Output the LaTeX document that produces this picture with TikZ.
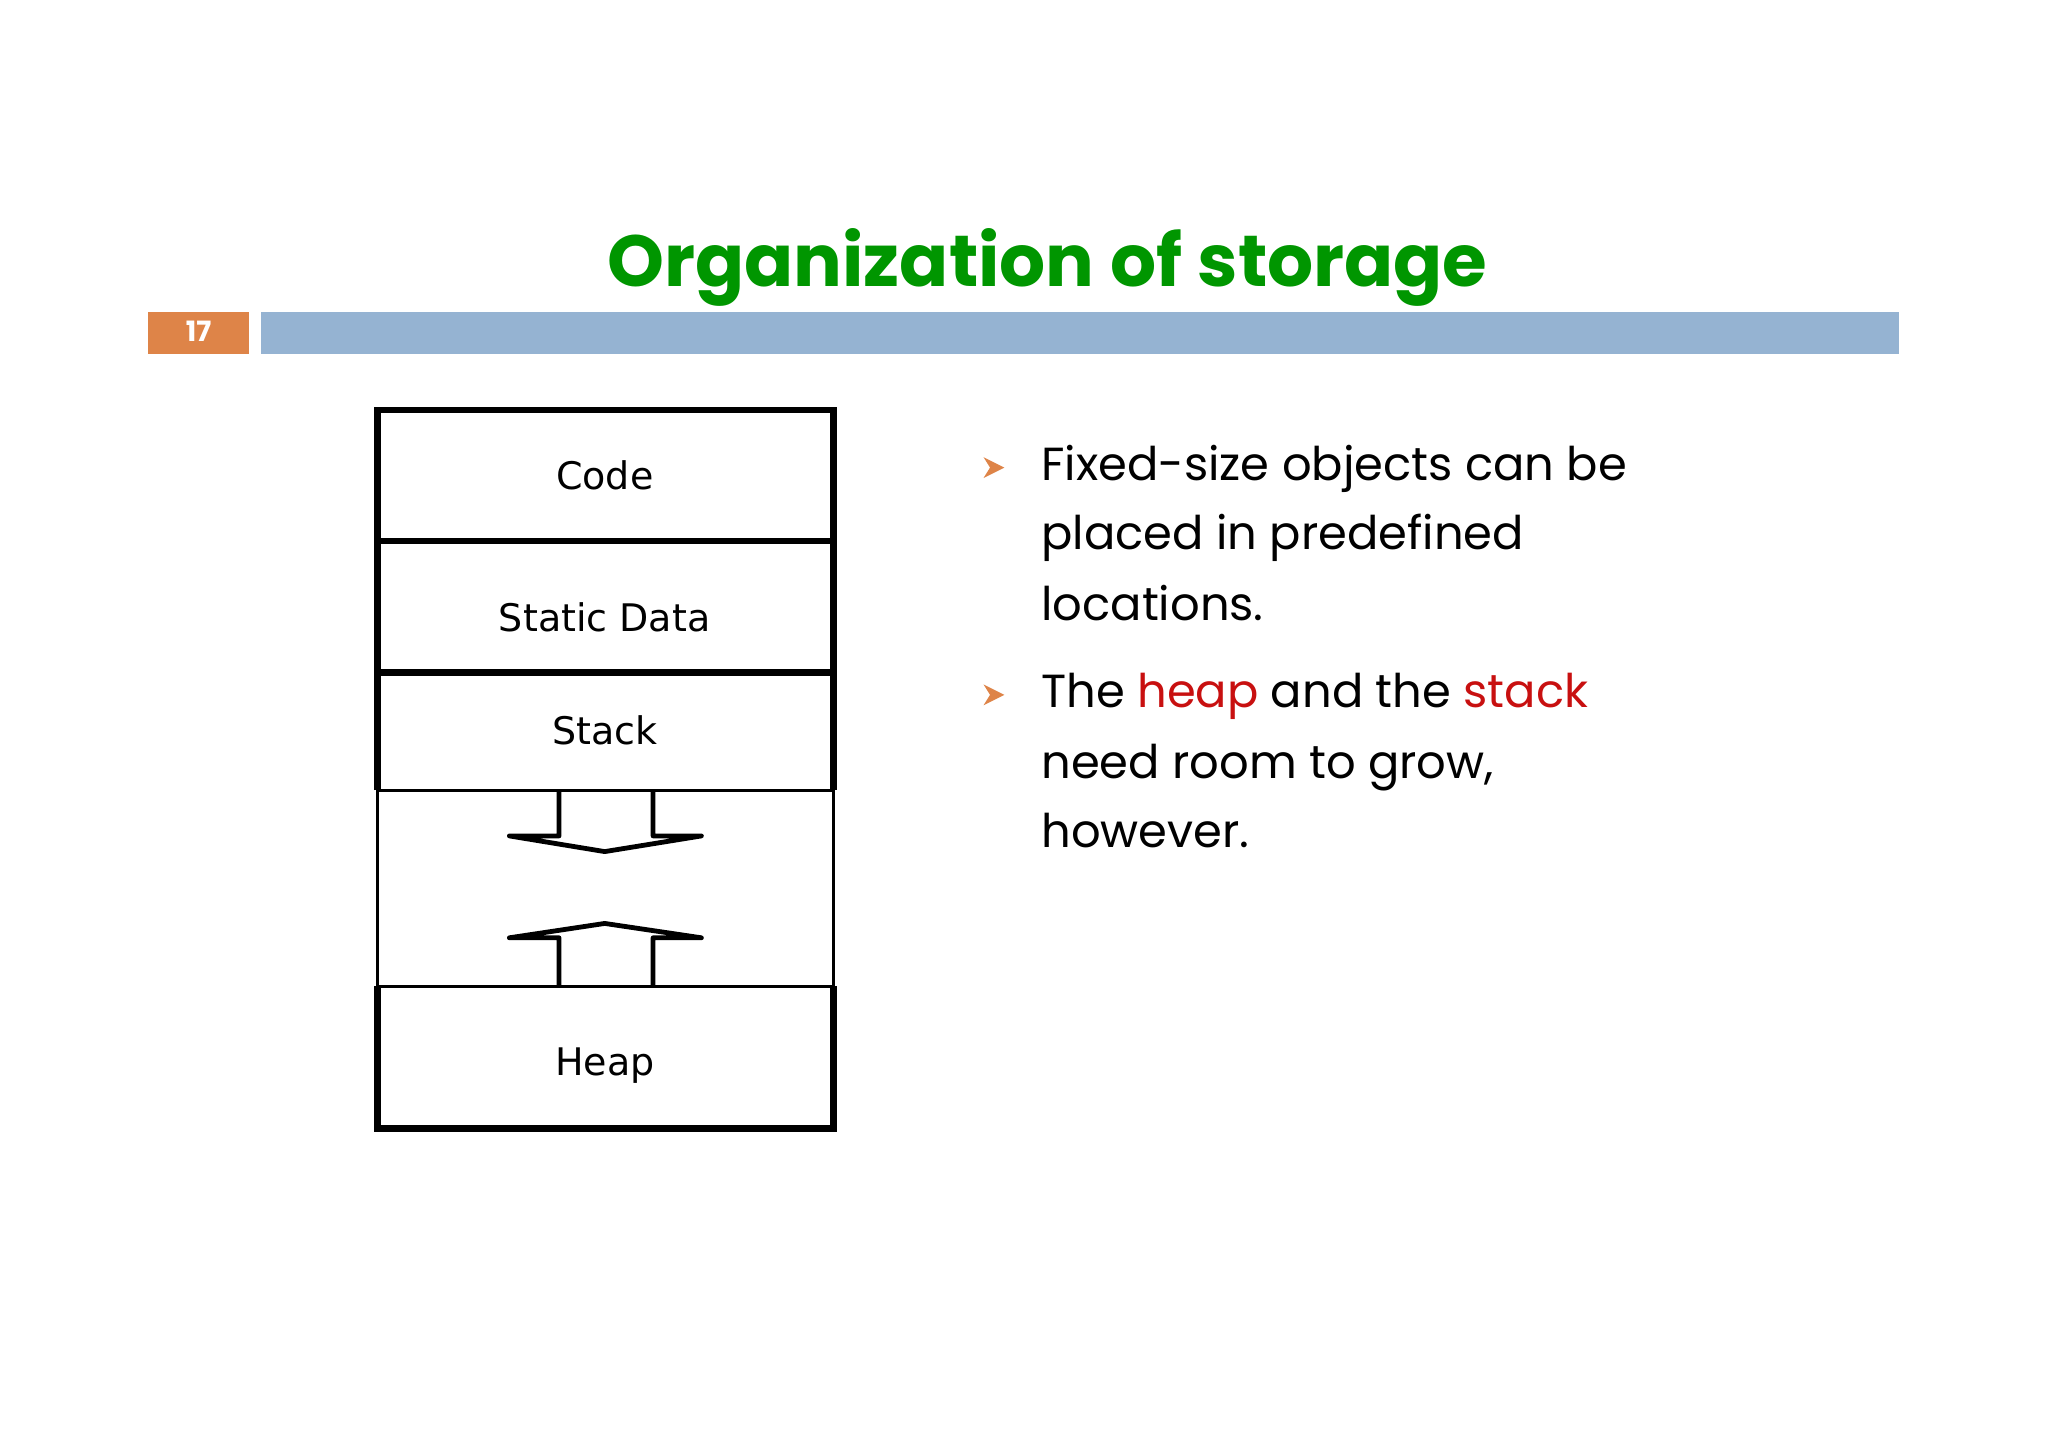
\documentclass[tikz,border=0pt]{standalone}
\usepackage{fontspec}
\setmainfont{Poppins}
\newfontfamily\boxfont{DejaVu Sans}
\definecolor{tgreen}{RGB}{0,150,0}
\definecolor{torange}{RGB}{222,132,72}
\definecolor{tblue}{RGB}{149,179,210}
\definecolor{tred}{RGB}{200,16,16}
\begin{document}
\begin{tikzpicture}[x=0.653pt,y=-0.653pt,
  thick box/.style={draw=black,line width=3.2pt},
  lbl/.style={font=\boxfont\fontsize{19}{22}\selectfont},
  body/.style={anchor=base west,inner sep=0pt,font=\fontsize{23.2}{28}\selectfont},
  bul/.style={fill=torange}]
\useasboundingbox (0,0) rectangle (1568,1108);
\fill[white] (0,0) rectangle (1568,1108);
\node[font=\bfseries\fontsize{36.2}{42}\selectfont,text=tgreen] (title) at (802,205) {Organization of storage};
\fill[torange] (113,239) rectangle (191,271);
\node[font=\bfseries\fontsize{14}{16}\selectfont,text=white] (num) at (152,254) {17};
\fill[tblue] (200,239) rectangle (1454,271);
% memory box
\draw[line width=1.2pt] (289,605) -- (289,755) (638,605) -- (638,755);
\draw[thick box] (289,605) |- (638,314) -- (638,605);
\draw[thick box] (291,414) -- (636,414) (291,515) -- (636,515);
\draw[line width=1.4pt] (289,605) -- (638,605) (289,755) -- (638,755);
\draw[thick box] (289,755) |- (638,864) -- (638,755);
\node[lbl] (code) at (463,364) {Code};
\node[lbl] (sd) at (463,473) {Static Data};
\node[lbl] (stk) at (463,559) {Stack};
\node[lbl] (heap) at (463,816) {Heap};
% arrows
\draw[line width=2.4pt,line join=round] (428,605) -- (428,640) -- (390,640) -- (463,652) -- (537,640) -- (500,640) -- (500,605);
\draw[line width=2.4pt,line join=round] (428,755) -- (428,718) -- (390,718) -- (463,707) -- (537,718) -- (500,718) -- (500,755);
% bullets
\foreach \n/\y in {b1/358,b2/532}{
  \fill[bul] (753,\y-8) -- (769,\y) -- (753,\y+8) -- (758,\y) -- cycle;
  \coordinate (\n) at (760,\y);}
\node[body] (t1) at (797,368) {Fixed-size objects can be};
\node[body] (t2) at (797,421) {placed in predefined};
\node[body] (t3) at (797,475) {locations.};
\node[body] (t4) at (797,542) {The \textcolor{tred}{heap} and the \textcolor{tred}{stack}};
\node[body] (t5) at (797,596) {need room to grow,};
\node[body] (t6) at (797,649) {however.};
\end{tikzpicture}
\end{document}
